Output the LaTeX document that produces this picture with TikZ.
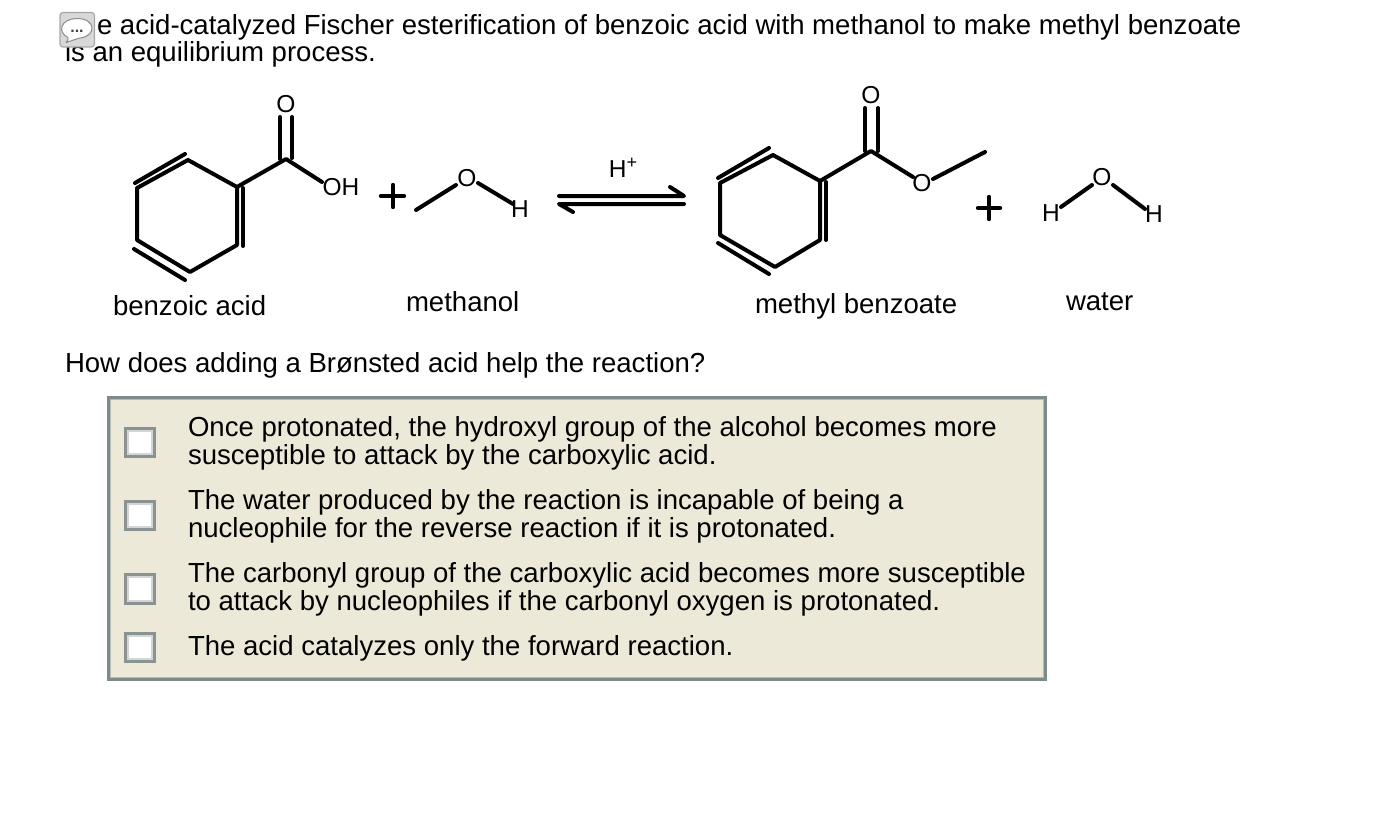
\documentclass[tikz,border=0pt]{standalone}
\usepackage{fontspec}
\setmainfont{Liberation Sans}
\definecolor{panelfill}{HTML}{ECE9D8}
\definecolor{panelline}{HTML}{7F8A8A}
\definecolor{panellight}{HTML}{B4BAB6}
\definecolor{boxouter}{HTML}{8A9292}
\definecolor{boxinner}{HTML}{D4D6D6}
\definecolor{iconfill}{HTML}{D8D8D8}
\definecolor{iconline}{HTML}{A8A8A8}
\definecolor{bubbleline}{HTML}{8C8C8C}
\newcommand{\tfs}{\fontsize{27.56}{27.56}\selectfont}
\newcommand{\afs}{\fontsize{24.5}{24.5}\selectfont}
\tikzset{
  x=1pt,y=-1pt,
  txt/.style={anchor=base west,inner sep=0pt,outer sep=0pt,font=\tfs,text=black},
  atom/.style={inner sep=0pt,outer sep=0pt,font=\afs,text=black},
  bond/.style={line width=4pt,line cap=round,black},
  arrowline/.style={line width=4pt,line cap=round,line join=round,black},
  plusline/.style={line width=4.4pt,line cap=round,black},
  panel/.style={draw=panelline,line width=3pt,fill=panelfill},
}
\newcommand{\checkbox}[2]{%
  \fill[boxouter] (124,#1) rectangle (156,#2);
  \fill[boxinner] (127,#1+3) rectangle (153,#2-3);
  \fill[white] (129,#1+5) rectangle (151,#2-5);
}
\begin{document}
\begin{tikzpicture}
\useasboundingbox (0,0) rectangle (1380,816);
\fill[white] (0,0) rectangle (1380,816);

% Heading
\node[txt] (h1) at (97,35) {e acid-catalyzed Fischer esterification of benzoic acid with methanol to make methyl benzoate};
\node[txt] (h2) at (65,62) {is an equilibrium process.};

% Comment icon
\draw[iconline,fill=iconfill,line width=1.2pt,rounded corners=3pt] (60,12.5) rectangle (94.5,47);
\draw[bubbleline,fill=white,line width=1pt,line join=round]
  (68,37.5) .. controls (58,33) and (59,19) .. (77,18.5)
  .. controls (96,18.5) and (97,36) .. (80,38)
  .. controls (76,39) and (71,41) .. (66,42.5)
  .. controls (68,41) and (68.5,39.5) .. (68,37.5) -- cycle;
\node[inner sep=0pt,anchor=base,font=\fontsize{16}{16}\selectfont\bfseries,text=black!75] (dots) at (77,33) {...};

% Benzoic acid
\coordinate (a1) at (237,187);
\coordinate (a2) at (188,160);
\coordinate (a3) at (137,188);
\coordinate (a4) at (137,240);
\coordinate (a5) at (190,272);
\coordinate (a6) at (237,245);
\coordinate (ac) at (286,159);
\coordinate (ad1s) at (135,183);
\coordinate (ad1e) at (185,154);
\coordinate (ad2s) at (134,249);
\coordinate (ad2e) at (185,280);
\coordinate (ad3s) at (243,188);
\coordinate (ad3e) at (243,246);
\coordinate (ao1) at (280,117);
\coordinate (ao1b) at (280,159);
\coordinate (ao2) at (292,117);
\coordinate (ao2b) at (292,158);
\coordinate (aoh) at (322,182);
\draw[bond,line join=round] (a1) -- (a2) -- (a3) -- (a4) -- (a5) -- (a6) -- (a1) -- (ac) -- (aoh);
\draw[bond] (ad1s) -- (ad1e);
\draw[bond] (ad2s) -- (ad2e);
\draw[bond] (ad3s) -- (ad3e);
\draw[bond] (ao1) -- (ao1b);
\draw[bond] (ao2) -- (ao2b);
\node[atom] (aO) at (286,104.5) {O};
\node[atom] (aOH) at (341,187) {OH};

% Plus 1
\coordinate (p1a) at (381,196);
\coordinate (p1b) at (404,196);
\coordinate (p1c) at (393,185);
\coordinate (p1d) at (393,207);
\draw[plusline] (p1a) -- (p1b);
\draw[plusline] (p1c) -- (p1d);

% Methanol
\node[atom] (mO) at (467,178) {O};
\node[atom] (mH) at (520,209) {H};
\coordinate (mc) at (416,210);
\coordinate (mo1) at (456,185);
\coordinate (mo2) at (478,183);
\coordinate (mh) at (513,204);
\draw[bond] (mc) -- (mo1);
\draw[bond] (mo2) -- (mh);

% Equilibrium arrow
\coordinate (t1) at (559,196);
\coordinate (t2) at (684,196);
\coordinate (t3) at (670,187);
\coordinate (b1) at (684,204);
\coordinate (b2) at (559,204);
\coordinate (b3) at (573,212);
\draw[arrowline] (t1) -- (t2) -- (t3);
\draw[arrowline] (b1) -- (b2) -- (b3);
\node[atom] (hp) at (623,168) {H\raisebox{9pt}{\fontsize{18}{18}\selectfont +}};

% Methyl benzoate
\coordinate (b1a) at (820,181);
\coordinate (b2a) at (773,155);
\coordinate (b3a) at (720,183);
\coordinate (b4a) at (720,235);
\coordinate (b5a) at (775,267);
\coordinate (b6a) at (820,240);
\coordinate (bc) at (871,151);
\coordinate (bo) at (913,177);
\coordinate (bd1s) at (718,178);
\coordinate (bd1e) at (769,148);
\coordinate (bd2s) at (718,243);
\coordinate (bd2e) at (769,274);
\coordinate (bd3s) at (826,182);
\coordinate (bd3e) at (826,240);
\coordinate (bo1) at (865,108);
\coordinate (bo1b) at (865,151);
\coordinate (bo2) at (878,108);
\coordinate (bo2b) at (878,151);
\coordinate (bm1) at (933,179);
\coordinate (bm2) at (985,152);
\draw[bond,line join=round] (b1a) -- (b2a) -- (b3a) -- (b4a) -- (b5a) -- (b6a) -- (b1a) -- (bc) -- (bo);
\draw[bond] (bd1s) -- (bd1e);
\draw[bond] (bd2s) -- (bd2e);
\draw[bond] (bd3s) -- (bd3e);
\draw[bond] (bo1) -- (bo1b);
\draw[bond] (bo2) -- (bo2b);
\draw[bond] (bm1) -- (bm2);
\node[atom] (bO) at (871,95.5) {O};
\node[atom] (bO2) at (922,183) {O};

% Plus 2
\coordinate (p2a) at (978,208);
\coordinate (p2b) at (1000,208);
\coordinate (p2c) at (989,197);
\coordinate (p2d) at (989,219);
\draw[plusline] (p2a) -- (p2b);
\draw[plusline] (p2c) -- (p2d);

% Water
\node[atom] (wO) at (1102,177) {O};
\node[atom] (wH1) at (1051,213) {H};
\node[atom] (wH2) at (1154,214) {H};
\coordinate (w1) at (1061,207);
\coordinate (w2) at (1092,185);
\coordinate (w3) at (1113,185);
\coordinate (w4) at (1145,209);
\draw[bond] (w1) -- (w2);
\draw[bond] (w3) -- (w4);

% Compound labels
\node[txt] (l1) at (113,315) {benzoic acid};
\node[txt] (l2) at (406,311) {methanol};
\node[txt] (l3) at (755,313) {methyl benzoate};
\node[txt] (l4) at (1066,310) {water};

% Question
\node[txt] (q) at (65,372) {How does adding a Brønsted acid help the reaction?};

% Panel
\draw[panel] (108.5,397.5) rectangle (1045.5,679.5);
\draw[panellight,line width=1pt] (110.5,399.5) rectangle (1043.5,677.5);
\checkbox{427}{458}
\checkbox{500}{531}
\checkbox{573}{605}
\checkbox{632}{663}

\node[txt] (o1a) at (188,436) {Once protonated, the hydroxyl group of the alcohol becomes more};
\node[txt] (o1b) at (188,464) {susceptible to attack by the carboxylic acid.};
\node[txt] (o2a) at (188,509) {The water produced by the reaction is incapable of being a};
\node[txt] (o2b) at (188,537) {nucleophile for the reverse reaction if it is protonated.};
\node[txt] (o3a) at (188,582) {The carbonyl group of the carboxylic acid becomes more susceptible};
\node[txt] (o3b) at (188,610) {to attack by nucleophiles if the carbonyl oxygen is protonated.};
\node[txt] (o4) at (188,655) {The acid catalyzes only the forward reaction.};
\end{tikzpicture}
\end{document}
